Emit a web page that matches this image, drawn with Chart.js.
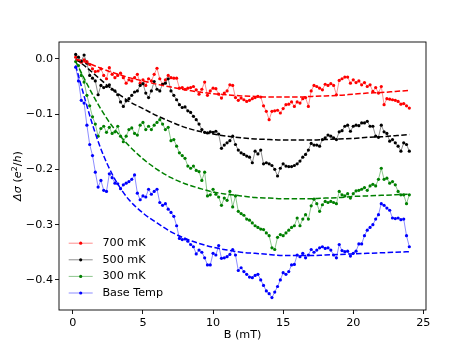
<!DOCTYPE html>
<html><head><meta charset="utf-8">
<script src="https://cdn.jsdelivr.net/npm/chart.js@4.4.0/dist/chart.umd.min.js"></script>
<style>html,body{margin:0;padding:0;background:#fff;} canvas{display:block;}</style>
</head><body>
<canvas id="c" width="474" height="355"></canvas>
<script>
// ---- data ----
const B = [0.2,0.4,0.6,0.8,1.0,1.2,1.4,1.6,1.8,2.0,
2.2,2.4,2.6,2.8,3.0,3.2,3.4,3.6,3.8,4.0,
4.2,4.4,4.6,4.8,5.0,5.2,5.4,5.6,5.8,6.0,
6.2,6.4,6.6,6.8,7.0,7.2,7.4,7.6,7.8,8.0,
8.2,8.4,8.6,8.8,9.0,9.2,9.4,9.6,9.8,10.0,
10.2,10.4,10.6,10.8,11.0,11.2,11.4,11.6,11.8,12.0,
12.2,12.4,12.6,12.8,13.0,13.2,13.4,13.6,13.8,14.0,
14.2,14.4,14.6,14.8,15.0,15.2,15.4,15.6,15.8,16.0,
16.2,16.4,16.6,16.8,17.0,17.2,17.4,17.6,17.8,18.0,
18.2,18.4,18.6,18.8,19.0,19.2,19.4,19.6,19.8,20.0,
20.2,20.4,20.6,20.8,21.0,21.2,21.4,21.6,21.8,22.0,
22.2,22.4,22.6,22.8,23.0,23.2,23.4,23.6,23.8,24.0];

const sig700 = [0.003,-0.003,-0.006,-0.002,-0.005,-0.010,-0.018,-0.023,-0.022,-0.018,
-0.030,-0.036,-0.016,-0.028,-0.034,-0.030,-0.026,-0.034,-0.044,-0.038,
-0.040,-0.034,-0.028,-0.044,-0.038,-0.048,-0.036,-0.040,-0.028,-0.017,
-0.036,-0.046,-0.038,-0.030,-0.034,-0.035,-0.035,-0.053,-0.052,-0.055,
-0.053,-0.052,-0.050,-0.056,-0.064,-0.055,-0.042,-0.066,-0.058,-0.053,
-0.054,-0.064,-0.071,-0.062,-0.058,-0.047,-0.048,-0.070,-0.075,-0.071,
-0.074,-0.077,-0.075,-0.072,-0.070,-0.068,-0.069,-0.085,-0.095,-0.110,
-0.095,-0.094,-0.093,-0.098,-0.090,-0.083,-0.082,-0.078,-0.086,-0.078,
-0.080,-0.072,-0.070,-0.086,-0.058,-0.048,-0.050,-0.053,-0.056,-0.046,
-0.048,-0.045,-0.048,-0.065,-0.039,-0.036,-0.033,-0.033,-0.044,-0.038,
-0.043,-0.040,-0.047,-0.043,-0.050,-0.047,-0.059,-0.052,-0.062,-0.050,
-0.083,-0.072,-0.073,-0.074,-0.075,-0.077,-0.082,-0.081,-0.085,-0.089];

const sig500 = [0.008,0.003,-0.004,0.007,-0.008,-0.030,-0.035,-0.040,-0.065,-0.048,
-0.052,-0.050,-0.047,-0.055,-0.058,-0.065,-0.078,-0.086,-0.076,-0.072,
-0.066,-0.060,-0.058,-0.048,-0.045,-0.062,-0.070,-0.058,-0.041,-0.055,
-0.058,-0.046,-0.044,-0.036,-0.058,-0.066,-0.074,-0.083,-0.088,-0.087,
-0.094,-0.097,-0.104,-0.110,-0.118,-0.128,-0.133,-0.134,-0.132,-0.133,
-0.131,-0.136,-0.162,-0.156,-0.152,-0.148,-0.140,-0.155,-0.165,-0.170,
-0.173,-0.176,-0.178,-0.188,-0.167,-0.172,-0.165,-0.190,-0.188,-0.190,
-0.193,-0.200,-0.212,-0.198,-0.190,-0.194,-0.195,-0.195,-0.193,-0.190,
-0.185,-0.178,-0.173,-0.165,-0.153,-0.156,-0.156,-0.158,-0.146,-0.143,
-0.138,-0.140,-0.143,-0.146,-0.132,-0.130,-0.122,-0.120,-0.131,-0.122,
-0.120,-0.121,-0.116,-0.116,-0.113,-0.122,-0.122,-0.140,-0.142,-0.120,
-0.132,-0.135,-0.149,-0.146,-0.152,-0.158,-0.167,-0.152,-0.155,-0.167];

const sig300 = [-0.005,-0.012,-0.030,-0.042,-0.066,-0.085,-0.105,-0.118,-0.140,-0.126,
-0.122,-0.133,-0.124,-0.135,-0.132,-0.122,-0.140,-0.150,-0.140,-0.128,
-0.125,-0.135,-0.138,-0.120,-0.115,-0.128,-0.122,-0.128,-0.120,-0.115,
-0.110,-0.118,-0.128,-0.124,-0.148,-0.146,-0.158,-0.170,-0.175,-0.180,
-0.194,-0.198,-0.194,-0.202,-0.204,-0.220,-0.205,-0.248,-0.246,-0.236,
-0.245,-0.250,-0.265,-0.252,-0.256,-0.240,-0.268,-0.248,-0.276,-0.280,
-0.283,-0.290,-0.292,-0.297,-0.302,-0.305,-0.308,-0.309,-0.315,-0.320,
-0.342,-0.345,-0.323,-0.318,-0.320,-0.315,-0.310,-0.305,-0.302,-0.288,
-0.302,-0.290,-0.282,-0.290,-0.266,-0.254,-0.262,-0.276,-0.264,-0.258,
-0.260,-0.258,-0.260,-0.262,-0.240,-0.246,-0.248,-0.244,-0.252,-0.244,
-0.239,-0.238,-0.236,-0.233,-0.238,-0.230,-0.227,-0.230,-0.218,-0.198,
-0.218,-0.216,-0.225,-0.222,-0.228,-0.240,-0.246,-0.246,-0.262,-0.246];

const sigBase = [-0.015,-0.040,-0.075,-0.080,-0.120,-0.155,-0.175,-0.205,-0.232,-0.220,
-0.238,-0.240,-0.208,-0.215,-0.225,-0.226,-0.235,-0.228,-0.225,-0.222,
-0.218,-0.210,-0.243,-0.255,-0.248,-0.250,-0.236,-0.245,-0.240,-0.236,
-0.260,-0.265,-0.262,-0.272,-0.278,-0.285,-0.302,-0.325,-0.327,-0.326,
-0.330,-0.336,-0.340,-0.353,-0.346,-0.350,-0.360,-0.373,-0.373,-0.352,
-0.355,-0.338,-0.361,-0.360,-0.358,-0.354,-0.345,-0.355,-0.383,-0.378,
-0.385,-0.390,-0.395,-0.396,-0.392,-0.390,-0.400,-0.410,-0.420,-0.425,
-0.432,-0.422,-0.412,-0.400,-0.387,-0.390,-0.385,-0.373,-0.372,-0.355,
-0.358,-0.352,-0.360,-0.355,-0.345,-0.350,-0.346,-0.342,-0.340,-0.343,
-0.342,-0.346,-0.355,-0.360,-0.336,-0.347,-0.349,-0.348,-0.357,-0.352,
-0.348,-0.335,-0.335,-0.320,-0.310,-0.305,-0.300,-0.290,-0.282,-0.262,
-0.265,-0.270,-0.274,-0.288,-0.289,-0.288,-0.291,-0.290,-0.320,-0.340];

// dashed fit curves
const fitB = [0.2,0.5,1,1.5,2,2.5,3,3.5,4,5,6,7,8,9,10,11,12,13,14,15,16,17,18,19,20,21,22,23,24];
const fit700 = [-0.001,-0.003,-0.007,-0.012,-0.017,-0.022,-0.026,-0.030,-0.034,-0.040,-0.046,-0.051,-0.056,-0.060,-0.063,-0.065,-0.067,-0.068,-0.069,-0.069,-0.069,-0.068,-0.067,-0.066,-0.064,-0.062,-0.061,-0.059,-0.057];
const fit500 = [0.000,-0.006,-0.016,-0.027,-0.038,-0.049,-0.059,-0.068,-0.077,-0.090,-0.103,-0.114,-0.124,-0.131,-0.136,-0.140,-0.143,-0.145,-0.146,-0.147,-0.147,-0.147,-0.146,-0.145,-0.144,-0.142,-0.141,-0.139,-0.137];
const fit300 = [-0.005,-0.020,-0.045,-0.069,-0.091,-0.111,-0.128,-0.143,-0.157,-0.181,-0.200,-0.215,-0.226,-0.234,-0.241,-0.245,-0.248,-0.251,-0.252,-0.253,-0.253,-0.253,-0.252,-0.251,-0.249,-0.248,-0.247,-0.246,-0.245];
const fitBase = [-0.012,-0.040,-0.085,-0.127,-0.163,-0.193,-0.218,-0.238,-0.255,-0.279,-0.297,-0.313,-0.325,-0.334,-0.341,-0.346,-0.350,-0.352,-0.354,-0.356,-0.356,-0.356,-0.355,-0.354,-0.353,-0.352,-0.351,-0.350,-0.349];

const seriesLabels = ['700 mK','500 mK','300 mK','Base Temp'];
const xTicks = [0,5,10,15,20,25];
const yTicks = [0,-0.1,-0.2,-0.3,-0.4];
const xTitle = 'B (mT)';

// ---- styling ----
const FONT = "'DejaVu Sans', sans-serif";
const FS = 11.2;
const colors = ['#ff0000','#000000','#008000','#0000ff'];
const lineColors = ['rgba(255,0,0,0.45)','rgba(0,0,0,0.45)','rgba(0,128,0,0.45)','rgba(0,0,255,0.45)'];
const values = [sig700, sig500, sig300, sigBase];
const fits = [fit700, fit500, fit300, fitBase];

function pts(xs, ys){ return xs.map((x,i)=>({x:x, y:ys[i]})); }

const datasets = [];
values.forEach((v,i)=>{
  datasets.push({
    label: seriesLabels[i], data: pts(B, v), order: 4 - i + 1,
    borderColor: lineColors[i], borderWidth: 1, tension: 0,
    pointRadius: 1.6, pointBorderWidth: 0, pointBackgroundColor: colors[i], pointHoverRadius: 1.6
  });
});
fits.forEach((f,i)=>{
  datasets.push({
    label: seriesLabels[i] + ' fit', data: pts(fitB, f), order: 0,
    borderColor: colors[i], borderWidth: 1.5, borderDash: [5.5, 2.4],
    cubicInterpolationMode: 'monotone', pointRadius: 0, pointHoverRadius: 0
  });
});

const framePlugin = {
  id: 'frame',
  afterDraw(chart){
    const ctx = chart.ctx, a = chart.chartArea;
    ctx.save();
    ctx.strokeStyle = '#000'; ctx.lineWidth = 0.9;
    ctx.strokeRect(a.left, a.top, a.right - a.left, a.bottom - a.top);
    ctx.restore();
  }
};

const legendPlugin = {
  id: 'customLegend',
  afterDraw(chart){
    const ctx = chart.ctx, a = chart.chartArea;
    ctx.save();
    ctx.font = FS + 'px ' + FONT;
    ctx.textBaseline = 'middle'; ctx.textAlign = 'left';
    const n = seriesLabels.length;
    for (let i = 0; i < n; i++){
      const y = a.bottom - 17 - (n - 1 - i) * 16.6;
      const x0 = a.left + 9.7, x1 = a.left + 33.7;
      ctx.strokeStyle = lineColors[i]; ctx.lineWidth = 1;
      ctx.beginPath(); ctx.moveTo(x0, y); ctx.lineTo(x1, y); ctx.stroke();
      ctx.fillStyle = colors[i];
      ctx.beginPath(); ctx.arc((x0 + x1) / 2, y, 1.6, 0, Math.PI * 2); ctx.fill();
      ctx.fillStyle = '#000';
      ctx.fillText(seriesLabels[i], a.left + 43.4, y);
    }
    ctx.restore();
  }
};

const yLabelPlugin = {
  id: 'yLabel',
  afterDraw(chart){
    const ctx = chart.ctx, a = chart.chartArea;
    const it = 'italic ' + FS + 'px ' + FONT, rm = FS + 'px ' + FONT, sm = (FS * 0.7) + 'px ' + FONT;
    const segs = [
      {t:'\u0394\u03C3', f:it, dy:0}, {t:' (', f:rm, dy:0}, {t:'e', f:it, dy:0},
      {t:'2', f:sm, dy:-FS*0.4}, {t:'/', f:rm, dy:0}, {t:'h', f:it, dy:0}, {t:')', f:rm, dy:0}
    ];
    ctx.save();
    let total = 0;
    segs.forEach(s => { ctx.font = s.f; s.w = ctx.measureText(s.t).width; total += s.w; });
    ctx.translate(17, (a.top + a.bottom) / 2);
    ctx.rotate(-Math.PI / 2);
    ctx.fillStyle = '#000'; ctx.textBaseline = 'alphabetic'; ctx.textAlign = 'left';
    let x = -total / 2;
    segs.forEach(s => { ctx.font = s.f; ctx.fillText(s.t, x, FS * 0.36 + s.dy); x += s.w; });
    ctx.restore();
  }
};

const tickFont = {family: FONT, size: FS};
new Chart(document.getElementById('c'), {
  type: 'line',
  data: {datasets},
  options: {
    responsive: false, animation: false, devicePixelRatio: 1,
    layout: {padding: {top: 42, right: 48, bottom: 0, left: 0}},
    plugins: {legend: {display: false}, tooltip: {enabled: false}},
    scales: {
      x: {
        type: 'linear', min: -0.99, max: 25.19,
        afterFit(s){ s.height = 45; },
        afterBuildTicks(s){ s.ticks = xTicks.map(v => ({value: v})); },
        ticks: {color: '#000', font: tickFont, padding: 2, maxRotation: 0, autoSkip: false,
                callback: (v) => String(v)},
        grid: {display: true, drawOnChartArea: false, drawTicks: true, tickLength: 4, tickWidth: 0.9, tickColor: '#000'},
        border: {display: false},
        title: {display: true, text: xTitle, color: '#000', font: tickFont, padding: {top: 0, bottom: 12.8}}
      },
      y: {
        type: 'linear', min: -0.4545, max: 0.0305,
        afterFit(s){ s.width = 59; },
        afterBuildTicks(s){ s.ticks = yTicks.map(v => ({value: v})); },
        ticks: {color: '#000', font: tickFont, padding: 2, autoSkip: false,
                callback: (v) => (v < -1e-9 ? '\u2212' : '') + Math.abs(v).toFixed(1)},
        grid: {display: true, drawOnChartArea: false, drawTicks: true, tickLength: 4, tickWidth: 0.9, tickColor: '#000'},
        border: {display: false}
      }
    }
  },
  plugins: [framePlugin, legendPlugin, yLabelPlugin]
});
</script>
</body></html>
